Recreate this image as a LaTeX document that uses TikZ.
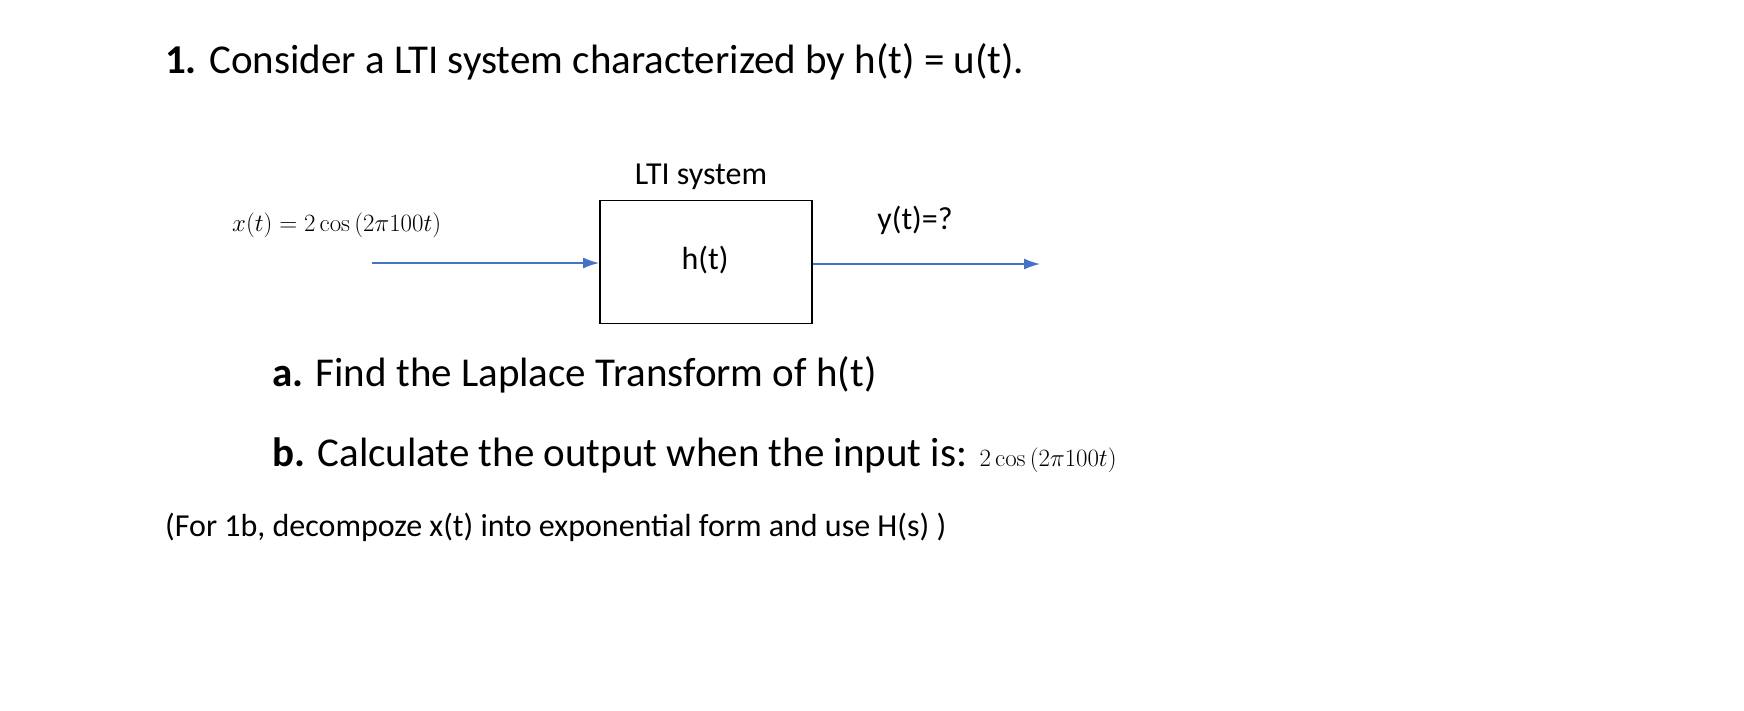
\documentclass[tikz,border=0pt]{standalone}
\usepackage{amsmath}
\usepackage[no-math]{fontspec}
\setmainfont{Carlito}
\usetikzlibrary{arrows.meta}
\definecolor{arr}{HTML}{4472C4}
\begin{document}
\begin{tikzpicture}[x=1pt,y=-1pt,
  big/.style={anchor=west,inner sep=0pt,font=\fontsize{41}{48}\selectfont},
  mid/.style={inner sep=0pt,font=\fontsize{32}{38}\selectfont},
  arrowline/.style={draw=arr,line width=1.5pt,-{Latex[length=16pt,width=11pt]}}]
\useasboundingbox (0,0) rectangle (1744,710);
\node[big] (title) at (165,62) {\textbf{1.} Consider a LTI system characterized by h(t) = u(t).};
\node[mid] (lti) at (701,177) {LTI system};
\node[draw,line width=1.8pt,minimum width=212pt,minimum height=123pt,inner sep=0pt] (box) at (706,262) {};
\node[mid] (h) at (705,260) {h(t)};
\node[inner sep=0pt,anchor=west,font=\fontsize{38}{44}\selectfont] (x) at (232,225) {$x(t) = 2\cos\,(2\pi 100t)$};
\node[mid] (y) at (915,220) {y(t)=?};
\coordinate (in) at (372,263);
\coordinate (out) at (1040,264);
\draw[arrowline] (in) -- (box.west|-in);
\draw[arrowline] (box.east|-out) -- (out);
\node[big] (a) at (272,375) {\textbf{a.} Find the Laplace Transform of h(t)};
\node[big] (b) at (272,455) {\textbf{b.} Calculate the output when the input is: {\fontsize{38}{44}\selectfont$2\cos\,(2\pi 100t)$}};
\node[inner sep=0pt,anchor=west,font=\fontsize{32}{38}\selectfont] (c) at (165,527) {(For 1b, decompoze x(t) into exponential form and use H(s) )};
\end{tikzpicture}
\end{document}
